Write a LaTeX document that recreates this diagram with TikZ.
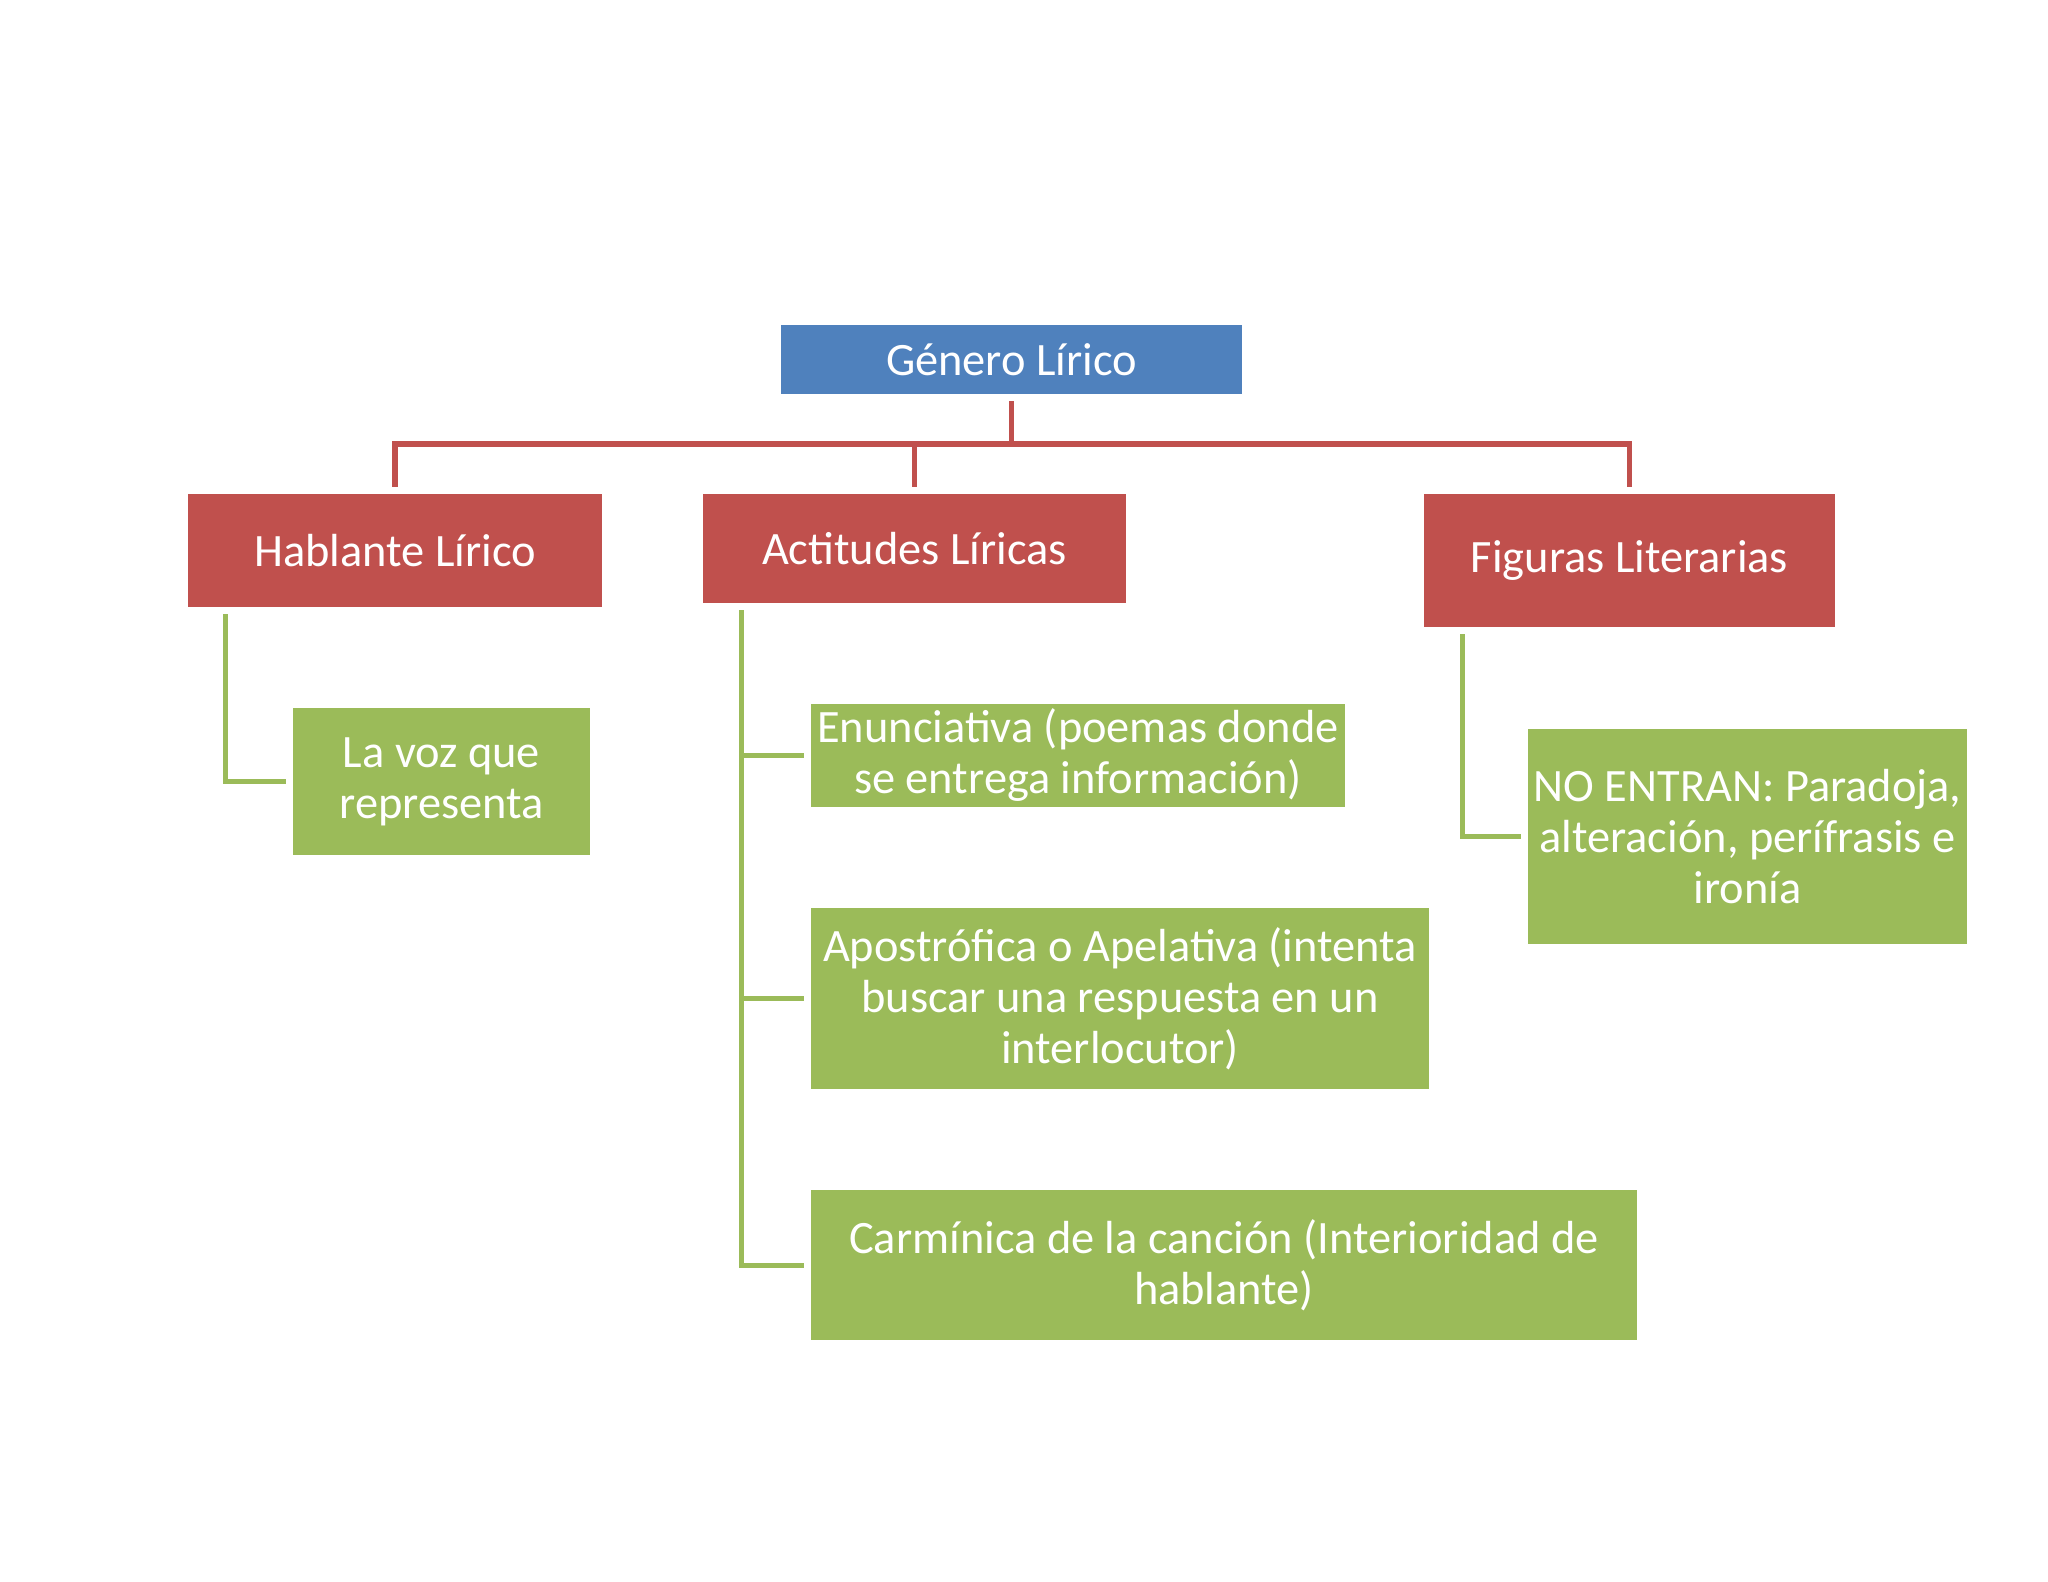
\documentclass[tikz,border=0pt]{standalone}
\usepackage{fontspec}
\setmainfont{Carlito}
\definecolor{myblue}{HTML}{4F81BD}
\definecolor{myred}{HTML}{C0504D}
\definecolor{mygreen}{HTML}{9BBB59}
\begin{document}
\begin{tikzpicture}[x=1pt,y=-1pt,
  box/.style={inner sep=0pt, text=white, align=center, font=\fontsize{46.4pt}{51pt}\selectfont},
  topbox/.style={box, fill=myblue},
  redbox/.style={box, fill=myred},
  greenbox/.style={box, fill=mygreen},
  redline/.style={draw=myred, line width=5.5pt, shorten <=7pt, shorten >=7pt},
  greenline/.style={draw=mygreen, line width=5pt, shorten <=7pt, shorten >=7pt}]
\fill[white] (0,0) rectangle (2048,1582);
\useasboundingbox (0,0) rectangle (2048,1582);

\node[topbox, minimum width=461pt, minimum height=69pt] (gen) at (1011.5,359.5) {Género Lírico};
\node[redbox, minimum width=414pt, minimum height=113pt] (hab) at (395,550.5) {Hablante Lírico};
\node[redbox, minimum width=423pt, minimum height=109pt] (act) at (914.5,548.5) {Actitudes Líricas};
\node[redbox, minimum width=411pt, minimum height=133pt] (fig) at (1629.5,560.5) {Figuras Literarias};

\node[greenbox, minimum width=297pt, minimum height=147pt] (voz) at (441.5,781.5) {La voz que\\representa};
\node[greenbox, minimum width=534pt, minimum height=103pt] (enu) at (1078,755.5) {Enunciativa (poemas donde\\se entrega información)};
\node[greenbox, minimum width=618pt, minimum height=181pt] (apo) at (1120,998.5) {Apostrófica o Apelativa (intenta\\buscar una respuesta en un\\interlocutor)};
\node[greenbox, minimum width=826pt, minimum height=150pt] (car) at (1224,1265) {Carmínica de la canción (Interioridad de\\hablante)};
\node[greenbox, minimum width=439pt, minimum height=215pt] (noe) at (1747.5,836.5) {NO ENTRAN: Paradoja,\\alteración, perífrasis e\\ironía};

\draw[redline] (gen.south) -- ++(0,50) -| (hab.north);
\draw[redline] (gen.south) -- ++(0,50) -| (act.north);
\draw[redline] (gen.south) -- ++(0,50) -| (fig.north);

\draw[greenline] ([xshift=38pt]hab.south west) |- (voz.west);
\draw[greenline] ([xshift=39pt]act.south west) |- (enu.west);
\draw[greenline] ([xshift=39pt]act.south west) |- (apo.west);
\draw[greenline] ([xshift=39pt]act.south west) |- (car.west);
\draw[greenline] ([xshift=39pt]fig.south west) |- (noe.west);
\end{tikzpicture}
\end{document}
